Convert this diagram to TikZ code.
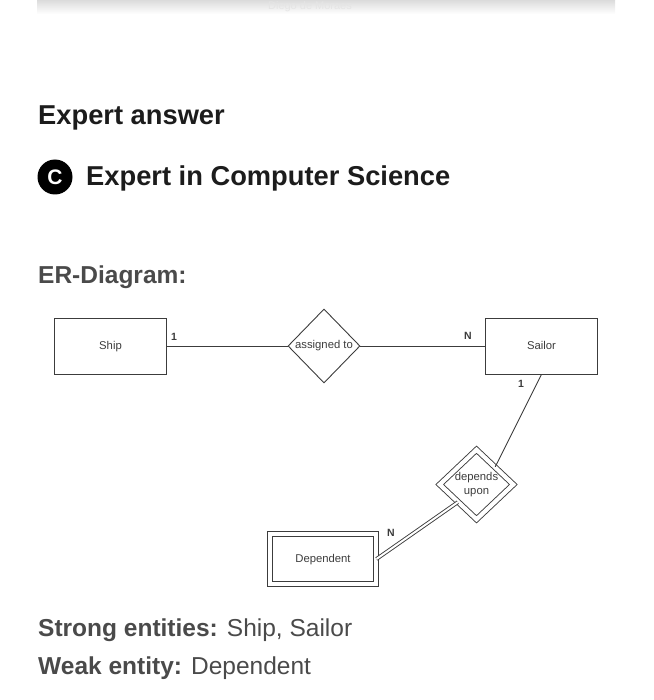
\documentclass[tikz,border=0pt]{standalone}
\usepackage{fontspec}
\setmainfont{Liberation Sans}
\usetikzlibrary{shapes.geometric}
\definecolor{head-ink}{HTML}{1C1C1C}
\definecolor{body-ink}{HTML}{4A4A4A}
\definecolor{er-ink}{HTML}{3C3C3C}
\tikzset{
    entity-box/.style = {draw=er-ink, rectangle, line width=0.9pt, minimum width=111.5pt, minimum height=56pt, inner sep=0pt, text=er-ink, text height=8.5pt, text depth=2.5pt, font=\fontsize{11.3}{14}\selectfont},
    weak-box/.style = {entity-box, double, double distance=4.2pt, minimum width=106pt, minimum height=50pt},
    relation-box/.style = {draw=er-ink, diamond, line width=0.9pt, minimum width=72pt, minimum height=74pt, inner sep=0pt, text=er-ink, align=center, font=\fontsize{11.3}{14}\selectfont},
    weak-relation/.style = {relation-box, double, double distance=4.2pt, minimum width=74pt, minimum height=70pt},
    er-line/.style = {draw=er-ink, line width=0.9pt},
    card/.style = {text=er-ink, inner sep=0pt, font=\fontsize{10.5}{12}\selectfont\bfseries},
    page-head/.style = {anchor=base west, inner sep=0pt, text=head-ink, font=\fontsize{27.3}{32}\selectfont\bfseries},
    page-text/.style = {anchor=base west, inner sep=0pt, text=body-ink, font=\fontsize{24.5}{30}\selectfont},
}

\begin{document}
\begin{tikzpicture}[x=1pt,y=-1pt]
\useasboundingbox (0,0) rectangle (653,700);
\fill[top color=black!14, bottom color=white, draw=none] (37,0) rectangle (615,14);
\node[inner sep=0pt, text=black!10, font=\fontsize{11}{12}\selectfont] (signature) at (310,7) {Diego de Moraes};

\node[page-head] (title) at (38,125) {Expert answer};
\node[circle, fill=black, minimum size=35pt, inner sep=0pt, text=white, font=\fontsize{21}{24}\selectfont\bfseries] (badge) at (55,177) {C};
\node[page-head] (expert) at (86,186) {Expert in Computer Science};
\node[page-text] (heading) at (38,283) {\textbf{ER-Diagram:}};

\node[entity-box] (ship) at (110.5,346) {Ship};
\node[relation-box] (assigned) at (324,346) {assigned to};
\node[entity-box] (sailor) at (541.5,346) {Sailor};
\node[weak-relation] (depends) at (476.5,484.5) {depends\\upon};
\node[weak-box] (dependent) at (323,559) {Dependent};

\draw[er-line] (ship) -- (assigned);
\draw[er-line] (assigned) -- (sailor);
\draw[er-line] (sailor.south) -- (depends.north east);
\draw[er-line, double, double distance=2pt] (depends.south west) -- (dependent.east);

\node[card] (card-ship) at (174,337) {1};
\node[card] (card-sailor) at (468,336) {N};
\node[card] (card-sailor-low) at (521,384) {1};
\node[card] (card-dependent) at (391,533) {N};

\node[page-text] (strong) at (38,636) {\textbf{Strong entities:} Ship, Sailor};
\node[page-text] (weak) at (38,674) {\textbf{Weak entity:} Dependent};
\end{tikzpicture}
\end{document}
